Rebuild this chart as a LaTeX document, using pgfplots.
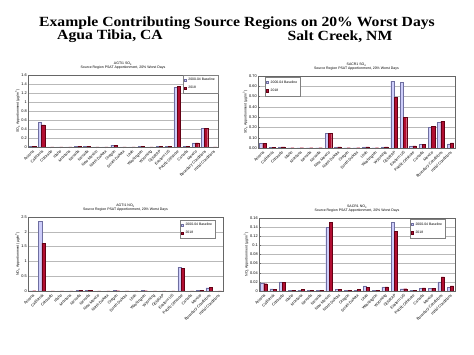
\documentclass[border=0pt]{standalone}
\usepackage{pgfplots}
\usepackage{pgfplotstable}
\pgfplotsset{compat=1.18}
\usepackage{fontspec}
\setmainfont{Liberation Sans}
\newfontfamily\timesfont{Liberation Serif}
\definecolor{basefill}{RGB}{205,205,250}
\definecolor{baseedge}{RGB}{110,110,160}
\definecolor{futfill}{RGB}{178,14,50}
\definecolor{futedge}{RGB}{100,0,20}

% x: category index, b: 2000-04 baseline, f: 2018
\pgfplotstableread{
x b f
0 0.02 0.02
1 0.55 0.49
2 0.003 0.003
3 0.002 0.002
4 0.002 0.002
5 0.02 0.02
6 0.02 0.02
7 0.002 0.002
8 0.002 0.002
9 0.04 0.03
10 0.002 0.002
11 0.002 0.002
12 0.015 0.012
13 0.002 0.002
14 0.01 0.01
15 0.01 0.008
16 1.33 1.35
17 0.01 0.01
18 0.09 0.09
19 0.41 0.41
20 0.002 0.002
}\agtiso
\pgfplotstableread{
x b f
0 0.043 0.045
1 0.005 0.005
2 0.01 0.01
3 0.003 0.003
4 0.003 0.003
5 0.003 0.003
6 0.003 0.003
7 0.14 0.145
8 0.01 0.01
9 0.003 0.003
10 0.003 0.003
11 0.01 0.01
12 0.003 0.003
13 0.01 0.01
14 0.65 0.49
15 0.64 0.296
16 0.02 0.02
17 0.035 0.035
18 0.20 0.21
19 0.25 0.26
20 0.04 0.05
}\sacrso
\pgfplotstableread{
x b f
0 0.01 0.01
1 2.36 1.62
2 0.002 0.002
3 0.002 0.002
4 0.002 0.002
5 0.02 0.02
6 0.02 0.02
7 0.002 0.002
8 0.002 0.002
9 0.015 0.01
10 0.002 0.002
11 0.002 0.002
12 0.015 0.01
13 0.002 0.002
14 0.002 0.002
15 0.002 0.002
16 0.81 0.77
17 0.005 0.005
18 0.03 0.03
19 0.11 0.13
20 0.002 0.002
}\agtino
\pgfplotstableread{
x b f
0 0.018 0.016
1 0.005 0.003
2 0.02 0.019
3 0.001 0.001
4 0.002 0.003
5 0.002 0.002
6 0.002 0.002
7 0.14 0.15
8 0.003 0.003
9 0.001 0.001
10 0.002 0.003
11 0.011 0.008
12 0.001 0.001
13 0.009 0.009
14 0.15 0.131
15 0.005 0.005
16 0.002 0.002
17 0.006 0.007
18 0.006 0.006
19 0.02 0.031
20 0.008 0.011
}\sacrno

\pgfplotsset{
  psat/.style={
    scale only axis,
    ybar=0pt, bar width=3.3pt,
    xmin=-0.5, xmax=20.5, ymin=0,
    xtick={0,...,20},
    xticklabels={Arizona,California,Colorado,Idaho,Montana,Nevada,Nevada,New Mexico,North Dakota,Oregon,South Dakota,Utah,Washington,Wyoming,CENRAP,Eastern US,Pacific Offshore,Canada,Mexico,Boundary Conditions,Initial Conditions},
    x tick label style={rotate=45, anchor=north east, font=\fontsize{3.8}{4.4}\selectfont, inner sep=0.8pt},
    y tick label style={font=\fontsize{3.9}{4.5}\selectfont, inner sep=1pt},
    /pgf/number format/assume math mode=true,
    ylabel style={font=\fontsize{3.5}{4}\selectfont, yshift=-3pt},
    title style={font=\fontsize{3.5}{4.4}\selectfont, align=center, yshift=-4pt},
    ymajorgrids, grid style={gray!55, line width=0.3pt},
    axis line style={gray!80!black, line width=0.4pt},
    major tick length=1.5pt,
    tick style={gray!80!black, line width=0.3pt},
    xtick pos=bottom, ytick pos=left,
    legend style={font=\fontsize{3.4}{4}\selectfont, draw=gray, line width=0.3pt, inner sep=1pt, row sep=0.3pt, cells={anchor=west}},
    legend image code/.code={\draw[#1, line width=0.3pt] (0pt,-1pt) rectangle (2.4pt,1.4pt);},
    enlarge x limits=false,
  },
  bbase/.style={fill=basefill, draw=baseedge, line width=0.3pt},
  bfut/.style={fill=futfill, draw=futedge, line width=0.3pt},
}

\begin{document}
\begin{tikzpicture}
\path[use as bounding box] (0pt,0pt) rectangle (474pt,355pt);
\node[font=\timesfont\bfseries\fontsize{14}{16}\selectfont] at (237pt,332pt) {\scalebox{1.12}[1]{Example Contributing Source Regions on 20\% Worst Days}};
\node[font=\timesfont\bfseries\fontsize{14}{16}\selectfont] at (110pt,318.5pt) {\scalebox{1.12}[1]{Agua Tibia, CA}};
\node[font=\timesfont\bfseries\fontsize{14}{16}\selectfont] at (340pt,318.5pt) {\scalebox{1.12}[1]{Salt Creek, NM}};

% Top left
\begin{axis}[psat, at={(28pt,208pt)}, anchor=south west, width=190pt, height=72pt,
  ymax=1.6, ytick={0,0.2,0.4,0.6,0.8,1,1.2,1.4,1.6},
  yticklabels={0,0.2,0.4,0.6,0.8,1,1.2,1.4,1.6},
  ylabel={SO\textsubscript{4} Apportionment (µg/m\textsuperscript{3})},
  title={AGTI1 SO\textsubscript{4}\\Source Region PSAT Apportionment, 20\% Worst Days},
  legend style={at={(1,1)}, anchor=north east}]
\addplot[bbase] table[x=x,y=b] {\agtiso};
\addplot[bfut] table[x=x,y=f] {\agtiso};
\legend{2000-04 Baseline,2018}
\end{axis}

% Top right
\begin{axis}[psat, at={(258pt,207pt)}, anchor=south west, width=197pt, height=72pt,
  ymax=0.7, ytick={0,0.1,0.2,0.3,0.4,0.5,0.6,0.7},
  yticklabels={0.00,0.10,0.20,0.30,0.40,0.50,0.60,0.70},
  ylabel={SO\textsubscript{4} Apportionment (µg/m\textsuperscript{3})},
  title={SACR1 SO\textsubscript{4}\\Source Region PSAT Apportionment, 20\% Worst Days},
  legend style={at={(0.035,0.98)}, anchor=north west}]
\addplot[bbase] table[x=x,y=b] {\sacrso};
\addplot[bfut] table[x=x,y=f] {\sacrso};
\legend{2000-04 Baseline,2018}
\end{axis}

% Bottom left
\begin{axis}[psat, at={(28pt,64pt)}, anchor=south west, width=195pt, height=74pt,
  ymax=2.5, ytick={0,0.5,1,1.5,2,2.5},
  yticklabels={0,0.5,1,1.5,2,2.5},
  ylabel={NO\textsubscript{3} Apportionment (µg/m\textsuperscript{3})},
  title={AGTI1 NO\textsubscript{3}\\Source Region PSAT Apportionment, 20\% Worst Days},
  legend style={at={(0.96,0.96)}, anchor=north east}]
\addplot[bbase] table[x=x,y=b] {\agtino};
\addplot[bfut] table[x=x,y=f] {\agtino};
\legend{2000-04 Baseline,2018}
\end{axis}

% Bottom right
\begin{axis}[psat, at={(259pt,64pt)}, anchor=south west, width=196pt, height=73pt,
  ymax=0.16, ytick={0,0.02,0.04,0.06,0.08,0.1,0.12,0.14,0.16},
  yticklabels={0,0.02,0.04,0.06,0.08,0.1,0.12,0.14,0.16},
  ylabel={NO\textsubscript{3} Apportionment (µg/m\textsuperscript{3})},
  title={SACR1 NO\textsubscript{3}\\Source Region PSAT Apportionment, 20\% Worst Days},
  legend style={at={(0.95,0.98)}, anchor=north east}]
\addplot[bbase] table[x=x,y=b] {\sacrno};
\addplot[bfut] table[x=x,y=f] {\sacrno};
\legend{2000-04 Baseline,2018}
\end{axis}
\end{tikzpicture}
\end{document}
